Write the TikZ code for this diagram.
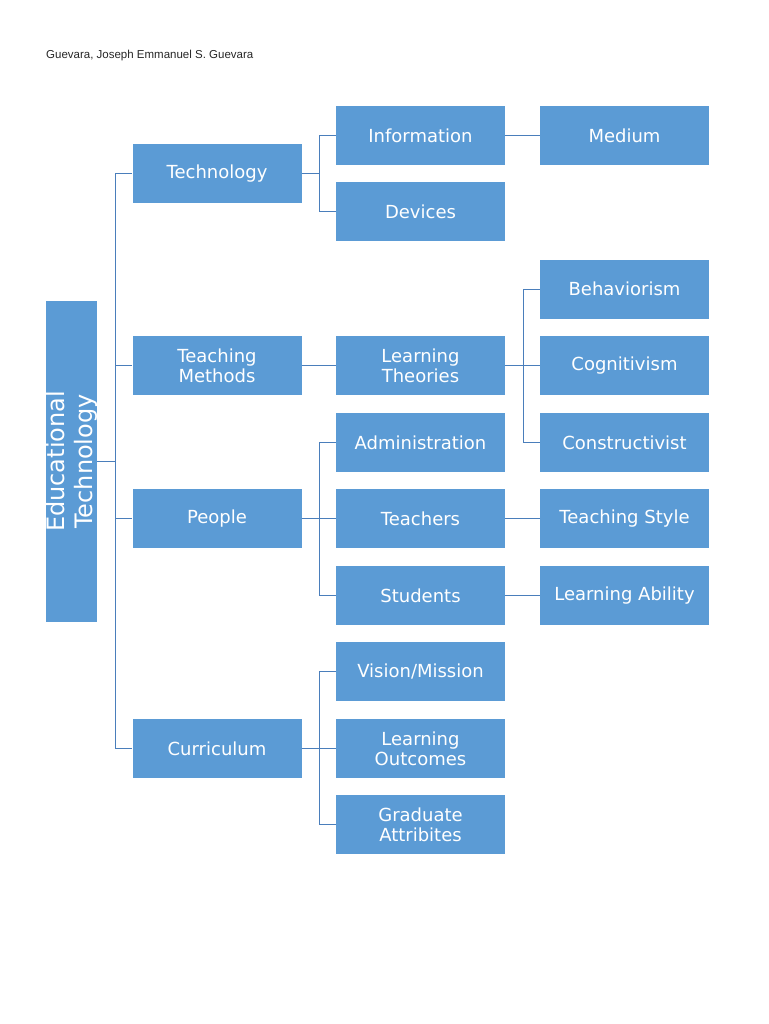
\documentclass[tikz,border=0pt]{standalone}
\usepackage{fontspec}
\setmainfont{DejaVu Sans}
\newfontfamily\hdr{Liberation Sans}
\definecolor{boxb}{HTML}{5B9BD5}
\definecolor{lineb}{HTML}{4A7EBB}
\begin{document}
\begin{tikzpicture}[x=1pt,y=-1pt,
  box/.style={fill=boxb,draw=none,text=white,minimum width=169pt,minimum height=59pt,inner sep=0pt,align=center,font=\fontsize{18}{20}\selectfont},
  ln/.style={draw=lineb,line width=0.8pt}]
\useasboundingbox (0,0) rectangle (768,1024);
\node[anchor=west,font=\hdr\fontsize{11.5}{13}\selectfont,text=black!85,inner sep=0pt] (h) at (46,56) {Guevara, Joseph Emmanuel S. Guevara};
\node[fill=boxb,minimum width=51pt,minimum height=321pt,inner sep=0pt] (edu) at (71.5,461.5) {};
\node[rotate=90,text=white,align=center,font=\fontsize{24}{28}\selectfont] (edut) at (edu.center) {Educational\\Technology};
% level 1
\node[box] (tech) at (217,173.5) {Technology};
\node[box] (tm) at (217,365.5) {Teaching\\Methods};
\node[box] (peo) at (217,518.5) {People};
\node[box] (cur) at (217,748.5) {Curriculum};
% level 2
\node[box] (inf) at (420.5,135.5) {Information};
\node[box] (dev) at (420.5,211.5) {Devices};
\node[box] (lt) at (420.5,365.5) {Learning\\Theories};
\node[box] (adm) at (420.5,442.5) {Administration};
\node[box] (tea) at (420.5,518.5) {Teachers};
\node[box] (stu) at (420.5,595.5) {Students};
\node[box] (vis) at (420.5,671.5) {Vision/Mission};
\node[box] (lo) at (420.5,748.5) {Learning\\Outcomes};
\node[box] (ga) at (420.5,824.5) {Graduate\\Attribites};
% level 3
\node[box] (med) at (624.5,135.5) {Medium};
\node[box] (beh) at (624.5,289) {Behaviorism};
\node[box] (cog) at (624.5,365.5) {Cognitivism};
\node[box] (con) at (624.5,442.5) {Constructivist};
\node[box] (ts) at (624.5,518.5) {Teaching Style};
\node[box] (la) at (624.5,595.5) {Learning Ability};
% connectors
\draw[ln] (edu.east) -- (115,461.5);
\foreach \n in {tech,tm,peo,cur} \draw[ln] (115,461.5) |- (\n.west);
\foreach \n in {inf,dev} \draw[ln] (tech.east) -- (319,173.5) |- (\n.west);
\foreach \n in {adm,tea,stu} \draw[ln] (peo.east) -- (319,518.5) |- (\n.west);
\foreach \n in {vis,lo,ga} \draw[ln] (cur.east) -- (319,748.5) |- (\n.west);
\foreach \n in {beh,cog,con} \draw[ln] (lt.east) -- (523,365.5) |- (\n.west);
\draw[ln] (tm) -- (lt);
\draw[ln] (inf) -- (med);
\draw[ln] (tea) -- (ts);
\draw[ln] (stu) -- (la);
\end{tikzpicture}
\end{document}
